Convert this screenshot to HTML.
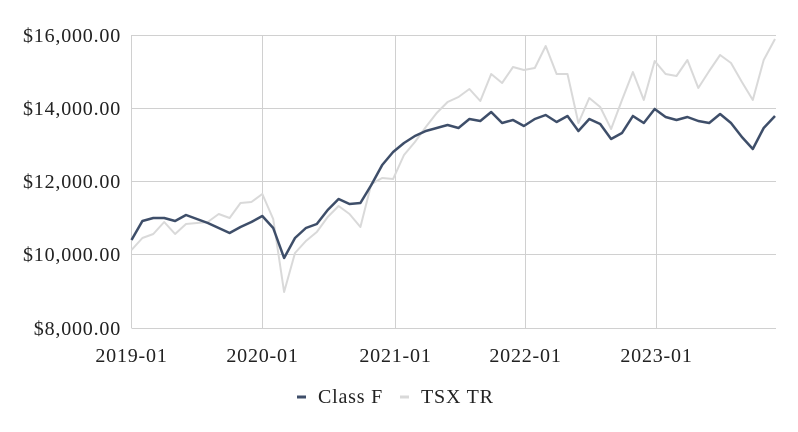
<!DOCTYPE html>
<html><head><meta charset="utf-8"><style>
html,body{margin:0;padding:0;background:#fff;width:798px;height:432px;overflow:hidden}
svg text{font-family:"Liberation Serif",serif;fill:#222;letter-spacing:0.8px}
</style></head><body>
<svg width="798" height="432" viewBox="0 0 798 432" xmlns="http://www.w3.org/2000/svg">
<g stroke="#d0d0d0" stroke-width="1" fill="none">
<line x1="131.5" y1="35.5" x2="776" y2="35.5"/>
<line x1="131.5" y1="108.5" x2="776" y2="108.5"/>
<line x1="131.5" y1="181.5" x2="776" y2="181.5"/>
<line x1="131.5" y1="254.5" x2="776" y2="254.5"/>
<line x1="131.5" y1="328.5" x2="776" y2="328.5"/>
<line x1="131.5" y1="35" x2="131.5" y2="328"/>
<line x1="262.5" y1="35" x2="262.5" y2="328"/>
<line x1="395.5" y1="35" x2="395.5" y2="328"/>
<line x1="525.5" y1="35" x2="525.5" y2="328"/>
<line x1="656.5" y1="35" x2="656.5" y2="328"/>
</g>
<g font-size="20" text-anchor="end">
<text x="121" y="42">$16,000.00</text>
<text x="121" y="115">$14,000.00</text>
<text x="121" y="188">$12,000.00</text>
<text x="121" y="261">$10,000.00</text>
<text x="121" y="335">$8,000.00</text>
</g>
<g font-size="20" text-anchor="middle">
<text x="131.5" y="362">2019-01</text>
<text x="262.5" y="362">2020-01</text>
<text x="395.5" y="362">2021-01</text>
<text x="525.5" y="362">2022-01</text>
<text x="656.5" y="362">2023-01</text>
</g>
<polyline fill="none" stroke="#d9d9d9" stroke-width="2" stroke-linejoin="round" points="131.5,250 142.4,238 153.3,234 164.2,222 175.1,234 186,224 196.9,223 207.8,222 218.7,214 229.6,218 240.5,203 251.4,202 262.3,194 273.2,219 284.1,292 295,253 305.9,241 316.8,232 327.7,217 338.6,206 349.5,214 360.4,227 371.3,184 382.2,178 393.1,179 404,155 414.9,142 425.8,127 436.7,113 447.6,102 458.5,97 469.4,89 480.3,101 491.2,74 502.1,83 513,67 523.9,70 534.8,68 545.7,46 556.6,74 567.5,74 578.4,123 589.3,98 600.2,107 611.1,129 622,100 632.9,72 643.8,100 654.7,61 665.6,74 676.5,76 687.4,60 698.3,88 709.2,71 720.1,55 731,63 741.9,82 752.8,100 763.7,60 775,39"/>
<polyline fill="none" stroke="#3e4e69" stroke-width="2.5" stroke-linejoin="round" points="131.5,240 142.4,221 153.3,218 164.2,218 175.1,221 186,215 196.9,219 207.8,223 218.7,228 229.6,233 240.5,227 251.4,222 262.3,216 273.2,228 284.1,258 295,238 305.9,228 316.8,224 327.7,210 338.6,199 349.5,204 360.4,203 371.3,185 382.2,165 393.1,152 404,143 414.9,136 425.8,131 436.7,128 447.6,125 458.5,128 469.4,119 480.3,121 491.2,112 502.1,123 513,120 523.9,126 534.8,119 545.7,115 556.6,122 567.5,116 578.4,131 589.3,119 600.2,124 611.1,139 622,133 632.9,116 643.8,123 654.7,109 665.6,117 676.5,120 687.4,117 698.3,121 709.2,123 720.1,114 731,123 741.9,137 752.8,149 763.7,128 775,116"/>
<line x1="297" y1="397" x2="306" y2="397" stroke="#3e4e69" stroke-width="3"/>
<text x="318" y="403" font-size="20">Class F</text>
<line x1="400" y1="397" x2="409" y2="397" stroke="#d9d9d9" stroke-width="3"/>
<text x="421" y="403" font-size="20">TSX TR</text>
</svg>
</body></html>
